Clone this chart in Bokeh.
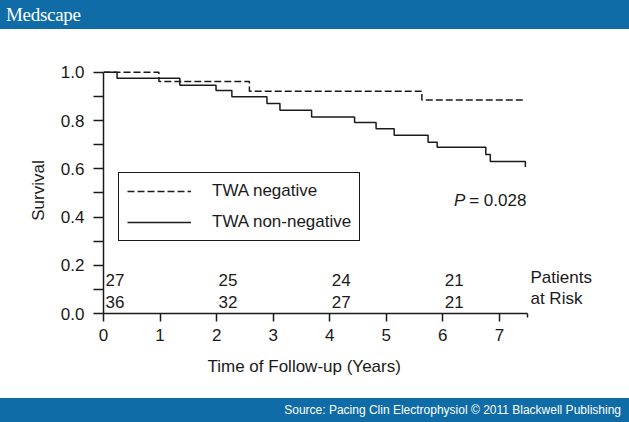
from bokeh.plotting import figure
from bokeh.models import (Div, Label, Legend, LegendItem, FixedTicker,
                          NumeralTickFormatter, Range1d, Title)
from bokeh.layouts import column
from bokeh.embed import file_html
from bokeh.resources import INLINE

# Kaplan-Meier survival, TWA negative group (years, survival)
neg_time = [0.0, 0.98, 2.58, 5.63, 7.46]
neg_surv = [1.0, 0.962, 0.922, 0.885, 0.885]

# Kaplan-Meier survival, TWA non-negative group (years, survival)
nonneg_time = [0.0, 0.24, 1.35, 1.99, 2.27, 2.89, 3.12, 3.68, 4.44,
               4.82, 5.14, 5.74, 5.90, 6.76, 6.84, 7.46]
nonneg_surv = [1.0, 0.975, 0.946, 0.925, 0.899, 0.871, 0.843, 0.815, 0.792,
               0.766, 0.739, 0.710, 0.689, 0.659, 0.630, 0.607]

# Patients at risk
risk_times = [0, 2, 4, 6]
risk_neg = [27, 25, 24, 21]
risk_nonneg = [36, 32, 27, 21]

x_ticks = [0, 1, 2, 3, 4, 5, 6, 7]
y_ticks = [0.0, 0.2, 0.4, 0.6, 0.8, 1.0]
y_minor = [0.1, 0.3, 0.5, 0.7, 0.9]

p_value_text = "= 0.028"

BLUE = "#0f6ca6"
INK = "#1a1a1a"
FONT = "Liberation Sans"
FS = "17px"

header = Div(
    text=('<div style="width:623px;padding-left:6px;line-height:29px;height:29px;'
          'font-family:\'Liberation Serif\',serif;font-size:19px;color:white;'
          'letter-spacing:-0.3px;">Medscape</div>'),
    width=629, height=29, margin=0,
    styles={"background-color": BLUE},
)

footer = Div(
    text=('<div style="width:621px;text-align:right;line-height:24px;'
          'height:24px;font-family:\'Liberation Sans\',sans-serif;font-size:12px;'
          'color:white;">Source: Pacing Clin Electrophysiol &copy; 2011 '
          'Blackwell Publishing</div>'),
    width=629, height=24, margin=0,
    styles={"background-color": BLUE},
)

# frame runs past the last year so the at-risk caption fits inside it;
# the x axis itself is bounded to the follow-up period
p = figure(width=629, height=369,
           x_range=Range1d(0, 8.7), y_range=Range1d(0, 1.02),
           output_backend="svg", toolbar_location=None,
           min_border_left=103, min_border_right=34,
           min_border_top=38, min_border_bottom=85,
           outline_line_color=None, background_fill_color="white",
           border_fill_color="white")
p.xgrid.visible = False
p.ygrid.visible = False

neg_r = p.step(neg_time, neg_surv, mode="after", line_color=INK,
               line_width=1.5, line_dash="7 3")
nonneg_r = p.step(nonneg_time, nonneg_surv, mode="after", line_color=INK,
                  line_width=1.5)

# axes
xa = p.xaxis[0]
xa.ticker = FixedTicker(ticks=x_ticks, minor_ticks=[7.5])
xa.bounds = (0, 7.5)
xa.major_tick_out = 8
xa.major_tick_in = 0
xa.minor_tick_out = 4
xa.minor_tick_in = 0
xa.major_label_standoff = 7

ya = p.yaxis[0]
ya.ticker = FixedTicker(ticks=y_ticks, minor_ticks=y_minor)
ya.formatter = NumeralTickFormatter(format="0.0")
ya.bounds = (0, 1)
ya.major_tick_out = 10
ya.major_tick_in = 0
ya.minor_tick_out = 10
ya.minor_tick_in = 0
ya.major_label_standoff = 9
ya.axis_label = "Survival"
ya.axis_label_standoff = 10
ya.axis_label_text_font_style = "normal"

for ax in (xa, ya):
    ax.axis_line_color = INK
    ax.axis_line_width = 1.5
    ax.major_tick_line_color = INK
    ax.major_tick_line_width = 1.5
    ax.minor_tick_line_color = INK
    ax.minor_tick_line_width = 1.5
    ax.major_label_text_font = FONT
    ax.major_label_text_font_size = FS
    ax.major_label_text_color = INK
    ax.axis_label_text_font = FONT
    ax.axis_label_text_font_size = FS
    ax.axis_label_text_color = INK

# x-axis title, set under the axis
p.add_layout(Title(text="Time of Follow-up (Years)", align="left", offset=104,
                   standoff=22, text_font=FONT, text_font_size=FS,
                   text_font_style="normal", text_color=INK), "below")

# legend
legend = Legend(items=[LegendItem(label="TWA negative", renderers=[neg_r]),
                       LegendItem(label="TWA non-negative", renderers=[nonneg_r])],
                location=(15, 72), orientation="vertical",
                padding=8, spacing=11, margin=0,
                glyph_width=64, glyph_height=16, label_height=16,
                label_standoff=21,
                label_text_font=FONT, label_text_font_size=FS,
                label_text_color=INK,
                border_line_color=INK, border_line_width=1.5,
                border_line_alpha=1.0,
                background_fill_color="white", background_fill_alpha=1.0)
p.add_layout(legend)


def note(x, y, text, align="left", x_offset=0, style="normal"):
    p.add_layout(Label(x=x, y=y, x_offset=x_offset, text=text,
                       text_align=align, text_baseline="middle",
                       text_font=FONT, text_font_size=FS,
                       text_font_style=style, text_color=INK))


# P value
note(7.478, 0.469, p_value_text, align="right")
note(7.478, 0.469, "P", align="right", x_offset=-61, style="italic")

# patients at risk
for t, n_neg, n_non in zip(risk_times, risk_neg, risk_nonneg):
    note(t, 0.138, str(n_neg), x_offset=2)
    note(t, 0.048, str(n_non), x_offset=2)

note(7.55, 0.149, "Patients")
note(7.55, 0.064, "at Risk")

layout = column(header, p, footer, spacing=0)

open("out.html", "w").write(file_html(layout, INLINE))
